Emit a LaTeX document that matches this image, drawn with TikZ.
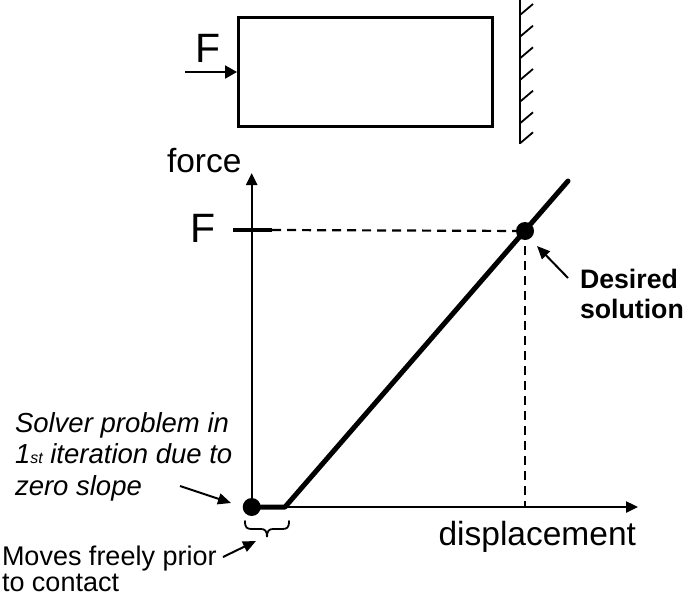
\documentclass[tikz,border=0pt]{standalone}
\usepackage{fontspec}
\setmainfont{Liberation Sans}
\usetikzlibrary{arrows.meta}
\tikzset{
  lbl/.style={inner sep=0pt, outer sep=0pt, anchor=base west},
  axisline/.style={line width=2.4pt, -{Triangle[length=12pt,width=11pt]}},
  curveline/.style={line width=5pt, line cap=round, line join=round},
  dashline/.style={line width=2.2pt, dash pattern=on 9pt off 6pt},
  pointer/.style={line width=2pt, -{Triangle[length=13pt,width=11pt]}},
  dotmark/.style={circle, fill=black, minimum size=18pt, inner sep=0pt},
  hatch/.style={line width=1.8pt},
}
\begin{document}
\begin{tikzpicture}[x=1pt,y=-1pt]
\useasboundingbox (0,0) rectangle (685,597);
% --- block and wall ---
\node[draw, line width=3pt, minimum width=254pt, minimum height=109pt, inner sep=0pt, anchor=north west] (block) at (237,16) {};
\coordinate (ftail) at (185,72);
\draw[line width=2pt, -{Triangle[length=12pt,width=13pt]}] (ftail) -- (ftail -| block.west);
\node[lbl, font=\fontsize{41}{41}\selectfont] (Ftop) at (195,62) {F};
\coordinate (walltop) at (520,-2);
\coordinate (wallbot) at (520,143.5);
\draw[line width=2.6pt] (walltop) -- (wallbot);
\foreach \yy in {-6.5,15,36.7,58.3,80,101.7,123.3,143.3}
  \draw[hatch] (520,\yy) -- ++(13,-11);
% --- axes ---
\coordinate (O) at (251.7,507);
\coordinate (ytip) at (251.7,173);
\coordinate (xtip) at (638,507);
\draw[axisline] (O) -- (ytip);
\draw[axisline] (O) -- (xtip);
\node[lbl, font=\fontsize{33.5}{33.5}\selectfont] (force) at (167,172) {force};
\node[lbl, anchor=base east, font=\fontsize{33.5}{33.5}\selectfont] (disp) at (636,545) {displacement};
% --- F level ---
\coordinate (tickL) at (233,230);
\coordinate (tickR) at (272,230);
\draw[line width=4pt] (tickL) -- (tickR);
\node[lbl, font=\fontsize{41}{41}\selectfont] (Faxis) at (190,242) {F};
% --- response curve ---
\coordinate (knee) at (285,507);
\coordinate (ctop) at (568,181);
\draw[curveline] (O) -- (knee) -- (ctop);
\node[dotmark] (sol) at (525,231) {};
\node[dotmark] (start) at (O) {};
\draw[dashline] (tickR) -- (sol.center);
\draw[dashline] (sol.center) -- (sol.center |- O);
% --- brace ---
\coordinate (braceL) at (245,521);
\coordinate (braceR) at (289,521);
\coordinate (braceTip) at (267,537);
\draw[line width=1.8pt, line cap=round] (braceL) .. controls (245,528) and (247,529) .. (252,529) -- (261,529) .. controls (265,529) and (267,531) .. (braceTip) .. controls (267,531) and (269,529) .. (273,529) -- (282,529) .. controls (287,529) and (289,528) .. (braceR);
% --- annotations ---
\node[lbl, font=\fontsize{27.5}{27.5}\selectfont\itshape] (s1) at (15,432) {Solver problem in};
\node[lbl, font=\fontsize{27.5}{27.5}\selectfont\itshape] (s2) at (15,463) {1{\fontsize{16}{16}\selectfont st} iteration due to};
\node[lbl, font=\fontsize{27.5}{27.5}\selectfont\itshape] (s3) at (15,495) {zero slope};
\coordinate (solvTail) at (180,486);
\coordinate (solvHead) at (231,503);
\draw[pointer] (solvTail) -- (solvHead);
\node[lbl, font=\fontsize{27}{27}\selectfont] (m1) at (2,565) {Moves freely prior};
\node[lbl, font=\fontsize{27}{27}\selectfont] (m2) at (2,591) {to contact};
\coordinate (movTail) at (223,557);
\coordinate (movHead) at (256,541);
\draw[pointer] (movTail) -- (movHead);
\node[lbl, font=\fontsize{26.7}{26.7}\selectfont\bfseries] (d1) at (580,288) {Desired};
\node[lbl, font=\fontsize{26.7}{26.7}\selectfont\bfseries] (d2) at (580,318) {solution};
\coordinate (desTail) at (568,278);
\coordinate (desHead) at (537,246);
\draw[pointer] (desTail) -- (desHead);
\end{tikzpicture}
\end{document}
